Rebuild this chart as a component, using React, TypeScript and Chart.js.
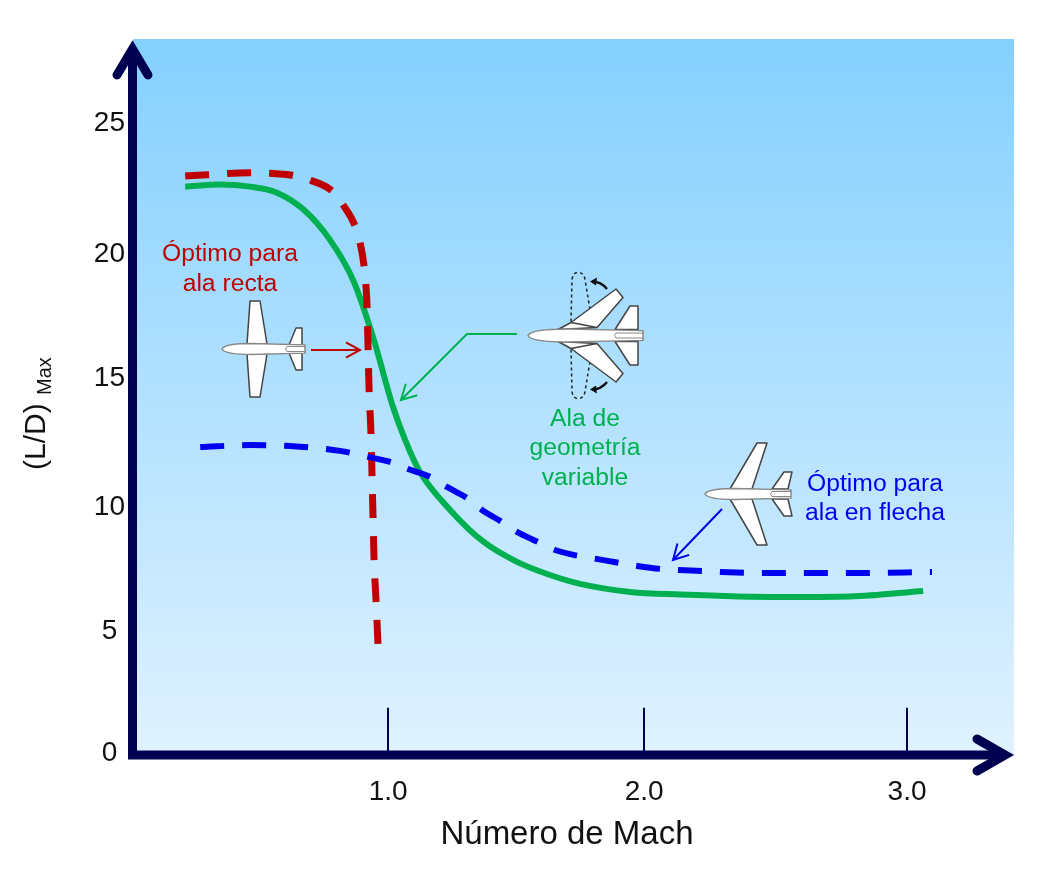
import { useEffect, useRef } from 'react';
import { Chart, registerables } from 'chart.js';

Chart.register(...registerables);

// values
const machRed = [0.218, 0.306, 0.468, 0.545, 0.63, 0.699, 0.784, 0.827, 0.873, 0.892, 0.908, 0.915, 0.919, 0.923, 0.927, 0.934, 0.938, 0.942, 0.946, 0.954, 0.961];
const ldRed = [22.82, 22.87, 22.95, 22.93, 22.85, 22.66, 22.23, 21.67, 20.84, 20.17, 19.22, 18.42, 17.63, 15.93, 14.26, 12.64, 10.97, 9.31, 7.61, 5.94, 4.28];

const machGreen = [0.218, 0.353, 0.468, 0.565, 0.672, 0.776, 0.865, 0.942, 1.019, 1.066, 1.123, 1.239, 1.366, 1.497, 1.624, 1.74, 1.933, 2.125, 2.511, 2.78, 3.062];
const ldGreen = [22.4, 22.48, 22.4, 22.19, 21.51, 20.29, 18.7, 16.44, 13.67, 12.36, 11.09, 9.59, 8.34, 7.53, 7.01, 6.66, 6.34, 6.24, 6.14, 6.16, 6.38];

const machBlue = [0.276, 0.468, 0.622, 0.815, 0.923, 1.008, 1.077, 1.162, 1.227, 1.304, 1.362, 1.439, 1.497, 1.578, 1.644, 1.732, 1.802, 1.89, 1.96, 2.052, 2.121, 2.214, 2.283, 2.511, 2.78, 3.096];
const ldBlue = [12.08, 12.16, 12.12, 11.93, 11.69, 11.49, 11.21, 10.9, 10.5, 10.06, 9.59, 9.11, 8.72, 8.32, 8, 7.77, 7.65, 7.49, 7.37, 7.25, 7.21, 7.17, 7.13, 7.09, 7.09, 7.13];

const xTickValues = [1, 1.987, 3];
const xTickLabels = ['1.0', '2.0', '3.0'];
const yTickValues = [-0.04, 4.79, 9.71, 14.82, 19.73, 24.92];
const yTickLabels = ['0', '5', '10', '15', '20', '25'];

const NAVY = '#000050';
const RED = '#C00000';
const GREEN = '#00B050';
const BLUE = '#0000F0';
const FONT = '"Liberation Sans", Arial, sans-serif';

type Pt = [number, number];

function arrow(ctx: CanvasRenderingContext2D, pts: Pt[], color: string, width: number, len: number, spread = 0.5) {
  const [tx, ty] = pts[pts.length - 1];
  const [px, py] = pts[pts.length - 2];
  const a = Math.atan2(ty - py, tx - px);
  ctx.strokeStyle = color;
  ctx.lineWidth = width;
  ctx.lineCap = 'butt';
  ctx.lineJoin = 'miter';
  ctx.beginPath();
  pts.forEach(([x, y], i) => (i ? ctx.lineTo(x, y) : ctx.moveTo(x, y)));
  ctx.stroke();
  ctx.beginPath();
  ctx.moveTo(tx - len * Math.cos(a - spread), ty - len * Math.sin(a - spread));
  ctx.lineTo(tx, ty);
  ctx.lineTo(tx - len * Math.cos(a + spread), ty - len * Math.sin(a + spread));
  ctx.stroke();
}

// wing or tail: drawn above the centre line and mirrored below it
function mirrored(ctx: CanvasRenderingContext2D, cy: number, pts: Pt[]) {
  [1, -1].forEach((s) => {
    ctx.beginPath();
    pts.forEach(([x, dy], i) => (i ? ctx.lineTo(x, cy + s * dy) : ctx.moveTo(x, cy + s * dy)));
    ctx.closePath();
    ctx.fillStyle = '#fff';
    ctx.fill();
    ctx.strokeStyle = '#444';
    ctx.lineWidth = 1.5;
    ctx.lineJoin = 'round';
    ctx.stroke();
  });
}

function fuselage(ctx: CanvasRenderingContext2D, x0: number, x1: number, cy: number, h: number, nozzle: number) {
  const len = x1 - x0;
  ctx.beginPath();
  ctx.moveTo(x0, cy);
  ctx.bezierCurveTo(x0 + 2, cy - h * 0.7, x0 + len * 0.15, cy - h, x0 + len * 0.35, cy - h);
  ctx.lineTo(x1, cy - h * 0.75);
  ctx.lineTo(x1, cy + h * 0.75);
  ctx.lineTo(x0 + len * 0.35, cy + h);
  ctx.bezierCurveTo(x0 + len * 0.15, cy + h, x0 + 2, cy + h * 0.7, x0, cy);
  ctx.closePath();
  ctx.fillStyle = '#fff';
  ctx.fill();
  ctx.strokeStyle = '#888';
  ctx.lineWidth = 1.5;
  ctx.stroke();
  ctx.beginPath();
  ctx.moveTo(x1, cy - 2.5);
  ctx.lineTo(x1 - nozzle + 3, cy - 2.5);
  ctx.quadraticCurveTo(x1 - nozzle, cy, x1 - nozzle + 3, cy + 2.5);
  ctx.lineTo(x1, cy + 2.5);
  ctx.lineWidth = 1;
  ctx.stroke();
}

function label(ctx: CanvasRenderingContext2D, lines: [string, number, number][], color: string) {
  ctx.fillStyle = color;
  ctx.font = `24.7px ${FONT}`;
  ctx.textAlign = 'center';
  ctx.textBaseline = 'alphabetic';
  lines.forEach(([t, x, y]) => ctx.fillText(t, x, y));
}

const backdrop = {
  id: 'backdrop',
  beforeDraw(chart: any) {
    const { ctx, chartArea: a } = chart;
    const g = ctx.createLinearGradient(0, a.top, 0, a.bottom);
    g.addColorStop(0, '#84D0FF');
    g.addColorStop(1, '#E0F2FF');
    ctx.fillStyle = g;
    ctx.fillRect(a.left, a.top, a.right - a.left, a.bottom - a.top);
  },
};

const decorations = {
  id: 'decorations',
  afterDatasetsDraw(chart: any) {
    const { ctx, scales } = chart;
    const y0 = scales.y.getPixelForValue(0);
    ctx.save();

    // x axis tick lines
    ctx.strokeStyle = NAVY;
    ctx.lineWidth = 2;
    xTickValues.forEach((v) => {
      const x = Math.round(scales.x.getPixelForValue(v));
      ctx.beginPath();
      ctx.moveTo(x, scales.y.getPixelForValue(1.75));
      ctx.lineTo(x, y0);
      ctx.stroke();
    });

    // arrowed axes
    ctx.strokeStyle = NAVY;
    ctx.lineCap = 'butt';
    ctx.lineJoin = 'miter';
    ctx.lineWidth = 9;
    ctx.beginPath();
    ctx.moveTo(132.5, 759);
    ctx.lineTo(132.5, 54);
    ctx.moveTo(128, 755);
    ctx.lineTo(998, 755);
    ctx.stroke();
    ctx.lineCap = 'round';
    ctx.beginPath();
    ctx.moveTo(117, 75);
    ctx.lineTo(132.5, 49);
    ctx.lineTo(148, 75);
    ctx.moveTo(977, 739);
    ctx.lineTo(1005, 755);
    ctx.lineTo(977, 771);
    ctx.stroke();
    ctx.lineCap = 'butt';

    // straight wing
    mirrored(ctx, 349, [[247, 5], [250, 48], [260, 48], [267, 5]]);
    mirrored(ctx, 349, [[289, 4], [296, 21], [302, 21], [302, 4]]);
    fuselage(ctx, 222, 305, 349, 5.5, 21);
    arrow(ctx, [[311, 350], [360, 350]], RED, 2, 16, 0.5);

    // variable geometry wing
    ctx.strokeStyle = '#222';
    ctx.lineWidth = 1.5;
    ctx.setLineDash([3, 3]);
    [1, -1].forEach((s) => {
      const py = (d: number) => 335.5 + s * d;
      ctx.beginPath();
      ctx.moveTo(571, py(14));
      ctx.lineTo(572, py(56));
      ctx.quadraticCurveTo(573, py(63), 578, py(63));
      ctx.quadraticCurveTo(584, py(63), 585, py(56));
      ctx.lineTo(593, py(8));
      ctx.stroke();
    });
    ctx.setLineDash([]);
    mirrored(ctx, 335.5, [[558, 6], [571, 13], [616, 46.5], [623, 38], [597, 8]]);
    ctx.strokeStyle = '#444';
    [1, -1].forEach((s) => {
      ctx.beginPath();
      ctx.moveTo(571, 335.5 + s * 13);
      ctx.lineTo(597, 335.5 + s * 8);
      ctx.stroke();
    });
    mirrored(ctx, 335.5, [[615, 6], [630, 29.5], [638, 29.5], [638, 6]]);
    fuselage(ctx, 528, 643, 335.5, 6.5, 30);
    [1, -1].forEach((s) => {
      const py = (d: number) => 335.5 + s * d;
      ctx.strokeStyle = '#111';
      ctx.lineWidth = 2.5;
      ctx.beginPath();
      ctx.moveTo(607, py(46.5));
      ctx.quadraticCurveTo(601, py(54), 592, py(54));
      ctx.stroke();
      ctx.fillStyle = '#111';
      ctx.beginPath();
      ctx.moveTo(590, py(54));
      ctx.lineTo(597, py(58));
      ctx.lineTo(596, py(50));
      ctx.closePath();
      ctx.fill();
    });
    arrow(ctx, [[517, 334], [467, 334], [401, 400]], GREEN, 2, 17, 0.5);

    // swept wing
    mirrored(ctx, 494, [[730, 5], [757, 51], [767, 51], [752, 5]]);
    mirrored(ctx, 494, [[772, 5], [784, 22], [792, 22], [788, 5]]);
    fuselage(ctx, 705, 791, 494, 5.5, 22);
    arrow(ctx, [[722, 509], [673, 560]], BLUE, 2, 17, 0.5);

    // annotations
    label(ctx, [['Óptimo para', 230, 261], ['ala recta', 230, 291]], RED);
    label(ctx, [['Ala de', 585, 426], ['geometría', 585, 455], ['variable', 585, 485]], GREEN);
    label(ctx, [['Óptimo para', 875, 491], ['ala en flecha', 875, 520]], BLUE);

    // axis titles
    ctx.fillStyle = '#111';
    ctx.textAlign = 'center';
    ctx.font = `33px ${FONT}`;
    ctx.fillText('Número de Mach', 567, 844);
    ctx.translate(45, 470);
    ctx.rotate(-Math.PI / 2);
    ctx.textAlign = 'left';
    ctx.font = `30px ${FONT}`;
    ctx.fillText('(L/D)', 0, 0);
    ctx.font = `20px ${FONT}`;
    ctx.fillText('Max', 75, 6);
    ctx.restore();
  },
};

export default function App() {
  const canvasRef = useRef<HTMLCanvasElement>(null);

  useEffect(() => {
    document.body.style.margin = '0';
    const canvas = canvasRef.current;
    if (!canvas) return;

    const line = (xs: number[], ys: number[], color: string, width: number, dash: number[]) => ({
      data: xs.map((x, i) => ({ x, y: ys[i] })),
      borderColor: color,
      borderWidth: width,
      borderDash: dash,
      borderCapStyle: 'butt' as const,
      pointRadius: 0,
      cubicInterpolationMode: 'monotone' as const,
      fill: false,
    });

    const chart = new Chart(canvas, {
      type: 'line',
      data: {
        datasets: [
          line(machBlue, ldBlue, BLUE, 6, [24, 18]),
          line(machRed, ldRed, RED, 7, [24, 18]),
          line(machGreen, ldGreen, GREEN, 6, []),
        ],
      },
      options: {
        responsive: false,
        animation: false,
        devicePixelRatio: 1,
        layout: { padding: { top: 39, right: 39, left: 0, bottom: 0 } },
        plugins: { legend: { display: false }, tooltip: { enabled: false } },
        scales: {
          x: {
            type: 'linear',
            min: 0.017,
            max: 3.412,
            grid: { display: false },
            border: { display: false },
            afterFit(scale: any) {
              scale.height = 117;
            },
            afterBuildTicks(scale: any) {
              scale.ticks = xTickValues.map((value) => ({ value }));
            },
            ticks: {
              autoSkip: false,
              maxRotation: 0,
              padding: 10,
              color: '#111',
              font: { family: FONT, size: 28 },
              callback: (_v: any, i: number) => xTickLabels[i],
            },
          },
          y: {
            type: 'linear',
            min: -0.2,
            max: 28.25,
            grid: { display: false },
            border: { display: false },
            afterFit(scale: any) {
              scale.width = 133;
            },
            afterBuildTicks(scale: any) {
              scale.ticks = yTickValues.map((value) => ({ value }));
            },
            ticks: {
              autoSkip: false,
              crossAlign: 'center',
              padding: 0,
              color: '#111',
              font: { family: FONT, size: 28 },
              callback: (_v: any, i: number) => yTickLabels[i],
            },
          },
        },
      },
      plugins: [backdrop, decorations],
    });

    return () => chart.destroy();
  }, []);

  return <canvas ref={canvasRef} width={1053} height={874} style={{ display: 'block' }} />;
}
